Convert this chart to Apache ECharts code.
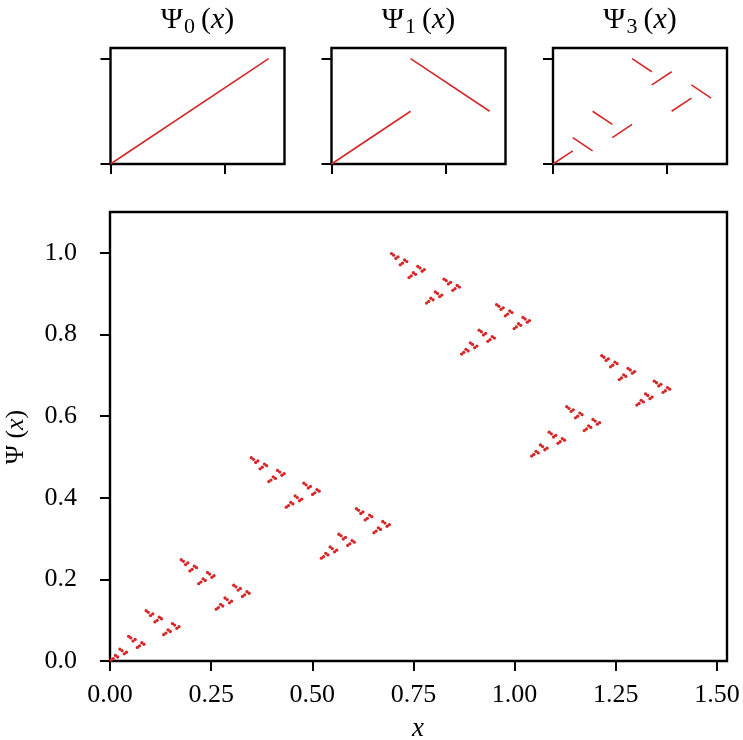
<!DOCTYPE html>
<html>
<head>
<meta charset="utf-8">
<script src="https://cdn.jsdelivr.net/npm/echarts@6.0.0/dist/echarts.min.js"></script>
<style>
html,body{margin:0;padding:0;background:#fff;}
#c{width:743px;height:740px;}
</style>
</head>
<body>
<div id="c"></div>
<script>
// ---------- data ----------
const mainXTicks = [0, 0.25, 0.5, 0.75, 1.0, 1.25, 1.5];
const mainYTicks = [0, 0.2, 0.4, 0.6, 0.8, 1.0];
const panelTicks = [0, 1];
const xAxisMax = 1.525;
const yAxisMax = 1.1;
const panelSubscripts = ['0', '1', '3'];

// line segments [x0, y0, x1, y1]
const psi0Segments = [[0.000, 0.000, 1.386, 1.000]];
const psi1Segments = [
  [0.000, 0.000, 0.693, 0.500],
  [0.693, 1.000, 1.386, 0.500]
];
const psi3Segments = [
  [0.000, 0.000, 0.173, 0.125],
  [0.173, 0.250, 0.347, 0.125],
  [0.347, 0.500, 0.520, 0.375],
  [0.520, 0.250, 0.693, 0.375],
  [0.693, 1.000, 0.866, 0.875],
  [0.866, 0.750, 1.040, 0.875],
  [1.040, 0.500, 1.213, 0.625],
  [1.213, 0.750, 1.386, 0.625]
];

// main plot: evenly spaced sample grid in x, values of Psi in units of 1/512
const psiXStart = 0.0;
const psiXEnd = 1.386;
const psiYTimes512 = [
  1,3,7,5,15,13,9,11,31,29,25,27,17,19,23,21,63,61,57,59,49,51,55,53,33,35,39,37,47,45,41,43,
  127,125,121,123,113,115,119,117,97,99,103,101,111,109,105,107,65,67,71,69,79,77,73,75,95,93,89,91,81,83,87,85,
  255,253,249,251,241,243,247,245,225,227,231,229,239,237,233,235,193,195,199,197,207,205,201,203,223,221,217,219,209,211,215,213,
  129,131,135,133,143,141,137,139,159,157,153,155,145,147,151,149,191,189,185,187,177,179,183,181,161,163,167,165,175,173,169,171,
  511,509,505,507,497,499,503,501,481,483,487,485,495,493,489,491,449,451,455,453,463,461,457,459,479,477,473,475,465,467,471,469,
  385,387,391,389,399,397,393,395,415,413,409,411,401,403,407,405,447,445,441,443,433,435,439,437,417,419,423,421,431,429,425,427,
  257,259,263,261,271,269,265,267,287,285,281,283,273,275,279,277,319,317,313,315,305,307,311,309,289,291,295,293,303,301,297,299,
  383,381,377,379,369,371,375,373,353,355,359,357,367,365,361,363,321,323,327,325,335,333,329,331,351,349,345,347,337,339,343,341
];

// ---------- chart ----------
const RED = '#d62728';
const FONT = '"Liberation Serif", "Times New Roman", serif';
const chart = echarts.init(document.getElementById('c'), null, {renderer: 'canvas'});

const panelLefts = [110.5, 331.5, 553];
const panelW = 174, panelTop = 48, panelH = 116;
const mainBox = {left: 110, top: 212, width: 617, height: 449};

const gridBase = {show: true, borderColor: '#000', borderWidth: 2.4, backgroundColor: 'rgba(0,0,0,0)', containLabel: false, outerBoundsMode: 'none'};
const grids = panelLefts.map(l => Object.assign({}, gridBase, {left: l, top: panelTop, width: panelW, height: panelH}));
grids.push(Object.assign({}, gridBase, mainBox));

const tickStyle = {show: true, inside: false, length: 10, lineStyle: {color: '#000', width: 2}};

const xAxes = [], yAxes = [];
for (let p = 0; p < 3; p++) {
  xAxes.push({type: 'value', gridIndex: p, min: 0, max: xAxisMax,
    axisLine: {show: false}, splitLine: {show: false},
    axisTick: Object.assign({customValues: panelTicks}, tickStyle),
    axisLabel: {show: false}});
  yAxes.push({type: 'value', gridIndex: p, min: 0, max: yAxisMax,
    axisLine: {show: false}, splitLine: {show: false},
    axisTick: Object.assign({customValues: panelTicks}, tickStyle),
    axisLabel: {show: false}});
}
xAxes.push({type: 'value', gridIndex: 3, min: 0, max: xAxisMax,
  axisLine: {show: false}, splitLine: {show: false},
  axisTick: Object.assign({customValues: mainXTicks}, tickStyle),
  axisLabel: {customValues: mainXTicks, margin: 21, fontFamily: FONT, fontSize: 26, color: '#000',
    formatter: v => Number(v).toFixed(2)}});
yAxes.push({type: 'value', gridIndex: 3, min: 0, max: yAxisMax,
  axisLine: {show: false}, splitLine: {show: false},
  axisTick: Object.assign({customValues: mainYTicks}, tickStyle),
  axisLabel: {customValues: mainYTicks, margin: 33, fontFamily: FONT, fontSize: 26, color: '#000',
    formatter: v => Number(v).toFixed(1)}});

const series = [];
[psi0Segments, psi1Segments, psi3Segments].forEach((segs, p) => {
  segs.forEach(s => {
    series.push({type: 'line', xAxisIndex: p, yAxisIndex: p,
      data: [[s[0], s[1]], [s[2], s[3]]],
      showSymbol: false, silent: true, animation: false,
      lineStyle: {color: RED, width: 1.6}});
  });
});

const nPts = psiYTimes512.length;
const mainData = psiYTimes512.map((v, i) => [psiXStart + (i + 0.5) * (psiXEnd - psiXStart) / nPts, v / 512]);
series.push({type: 'scatter', xAxisIndex: 3, yAxisIndex: 3, data: mainData,
  symbol: 'circle', symbolSize: 3.3, silent: true, animation: false,
  itemStyle: {color: RED, opacity: 1}});

const titleRich = {
  p: {fontFamily: FONT, fontSize: 30, lineHeight: 34, color: '#000'},
  s: {fontFamily: FONT, fontSize: 22, lineHeight: 20, padding: [14, 0, 0, 1], color: '#000'},
  i: {fontFamily: FONT, fontStyle: 'italic', fontSize: 30, lineHeight: 34, color: '#000'}
};
const graphics = panelLefts.map((l, p) => ({
  type: 'text', x: l + panelW / 2, y: 20, silent: true,
  style: {text: '{p|Ψ}{s|' + panelSubscripts[p] + '}{p|\u2009(}{i|x}{p|)}', rich: titleRich,
    align: 'center', verticalAlign: 'middle'}
}));
graphics.push({type: 'text', x: 418, y: 729, silent: true,
  style: {text: 'x', fontFamily: FONT, fontStyle: 'italic', fontSize: 27, fill: '#000',
    align: 'center', verticalAlign: 'middle'}});
graphics.push({type: 'text', x: 16, y: 437, rotation: Math.PI / 2, silent: true,
  style: {text: '{p|Ψ}{p| (}{i|x}{p|)}',
    rich: {p: {fontFamily: FONT, fontSize: 26, color: '#000'}, i: {fontFamily: FONT, fontStyle: 'italic', fontSize: 26, color: '#000'}},
    align: 'center', verticalAlign: 'middle'}});

chart.setOption({
  animation: false,
  backgroundColor: '#fff',
  grid: grids,
  xAxis: xAxes,
  yAxis: yAxes,
  series: series,
  graphic: graphics
});
</script>
</body>
</html>
